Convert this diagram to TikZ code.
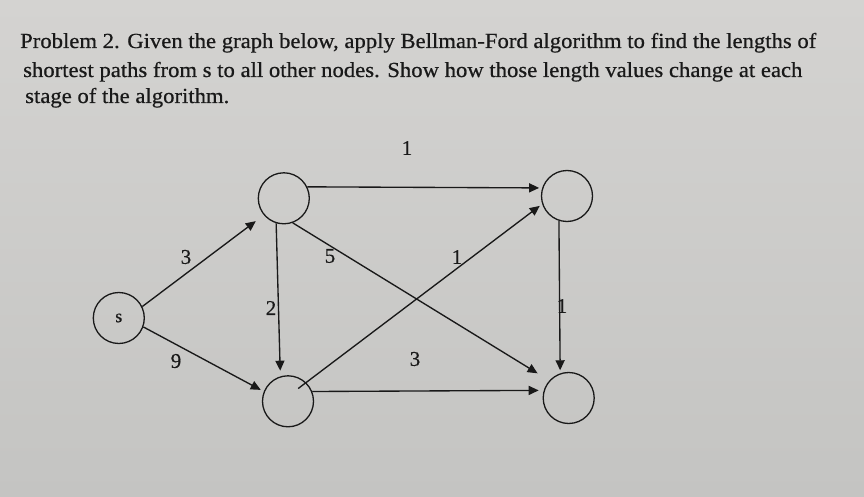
\documentclass[tikz,border=0pt]{standalone}
\usepackage{fontspec}
\setmainfont{Liberation Serif}
\newfontfamily\paperfont[FakeStretch=1.055,FakeBold=0.6]{Liberation Serif}
\newfontfamily\labfont[FakeBold=0.5]{Liberation Serif}
\usetikzlibrary{arrows.meta}
\definecolor{paperTop}{RGB}{212,211,209}
\definecolor{paperBot}{RGB}{196,196,194}
\definecolor{ink}{RGB}{25,25,25}
\tikzset{
  vtx/.style={circle,draw=ink,line width=1.3pt,minimum size=51pt,inner sep=0pt,font=\labfont\fontsize{18}{18}\selectfont,text=ink},
  edge/.style={draw=ink,line width=1.35pt,-{Triangle[length=10pt,width=9pt]}},
  wlab/.style={text=ink,inner sep=0pt,font=\labfont\fontsize{21}{21}\selectfont},
  para/.style={text=ink,inner sep=0pt,anchor=base west,font=\paperfont\fontsize{21.5}{21.5}\selectfont}
}
\begin{document}
\begin{tikzpicture}[x=1pt,y=-1pt]
\shade[top color=paperTop,bottom color=paperBot] (0,0) rectangle (864,497);
\useasboundingbox (0,0) rectangle (864,497);
% text
\node[para] (t1) at (20,48) {Problem 2. Given the graph below, apply Bellman-Ford algorithm to find the lengths of};
\node[para] (t2) at (23,77) {shortest paths from s to all other nodes. Show how those length values change at each};
\node[para] (t3) at (25,103) {stage of the algorithm.};
% vertices
\node[vtx] (s) at (118.8,318) {s};
\node[vtx] (a) at (283.8,198.3) {};
\node[vtx] (b) at (567,196) {};
\node[vtx] (c) at (288,401.3) {};
\node[vtx] (d) at (568.7,398) {};
% edges
\draw[edge,shorten >=10pt] (s.26) -- (a.220);
\draw[edge,shorten >=3.4pt] (s.-20) -- (c.158);
\draw[edge,shorten >=3pt] (a.26) -- (b.162);
\draw[edge,shorten >=5.6pt] (a.-107) -- (c.107);
\draw[edge,shorten >=13.7pt] (a.-70) -- (d.138);
\draw[edge,shorten <=-10pt,shorten >=3pt] (c.46) -- (b.198);
\draw[edge,shorten >=5pt] (c.22) -- (d.163);
\draw[edge,shorten >=3pt] (b.-108) -- (d.109);
% weights
\node[wlab] (w1) at (186,257) {3};
\node[wlab] (w2) at (176,361) {9};
\node[wlab] (w3) at (407,148) {1};
\node[wlab] (w4) at (271,308) {2};
\node[wlab] (w5) at (330,256) {5};
\node[wlab] (w6) at (457,257) {1};
\node[wlab] (w7) at (415,359) {3};
\node[wlab] (w8) at (562,306) {1};
\end{tikzpicture}
\end{document}
